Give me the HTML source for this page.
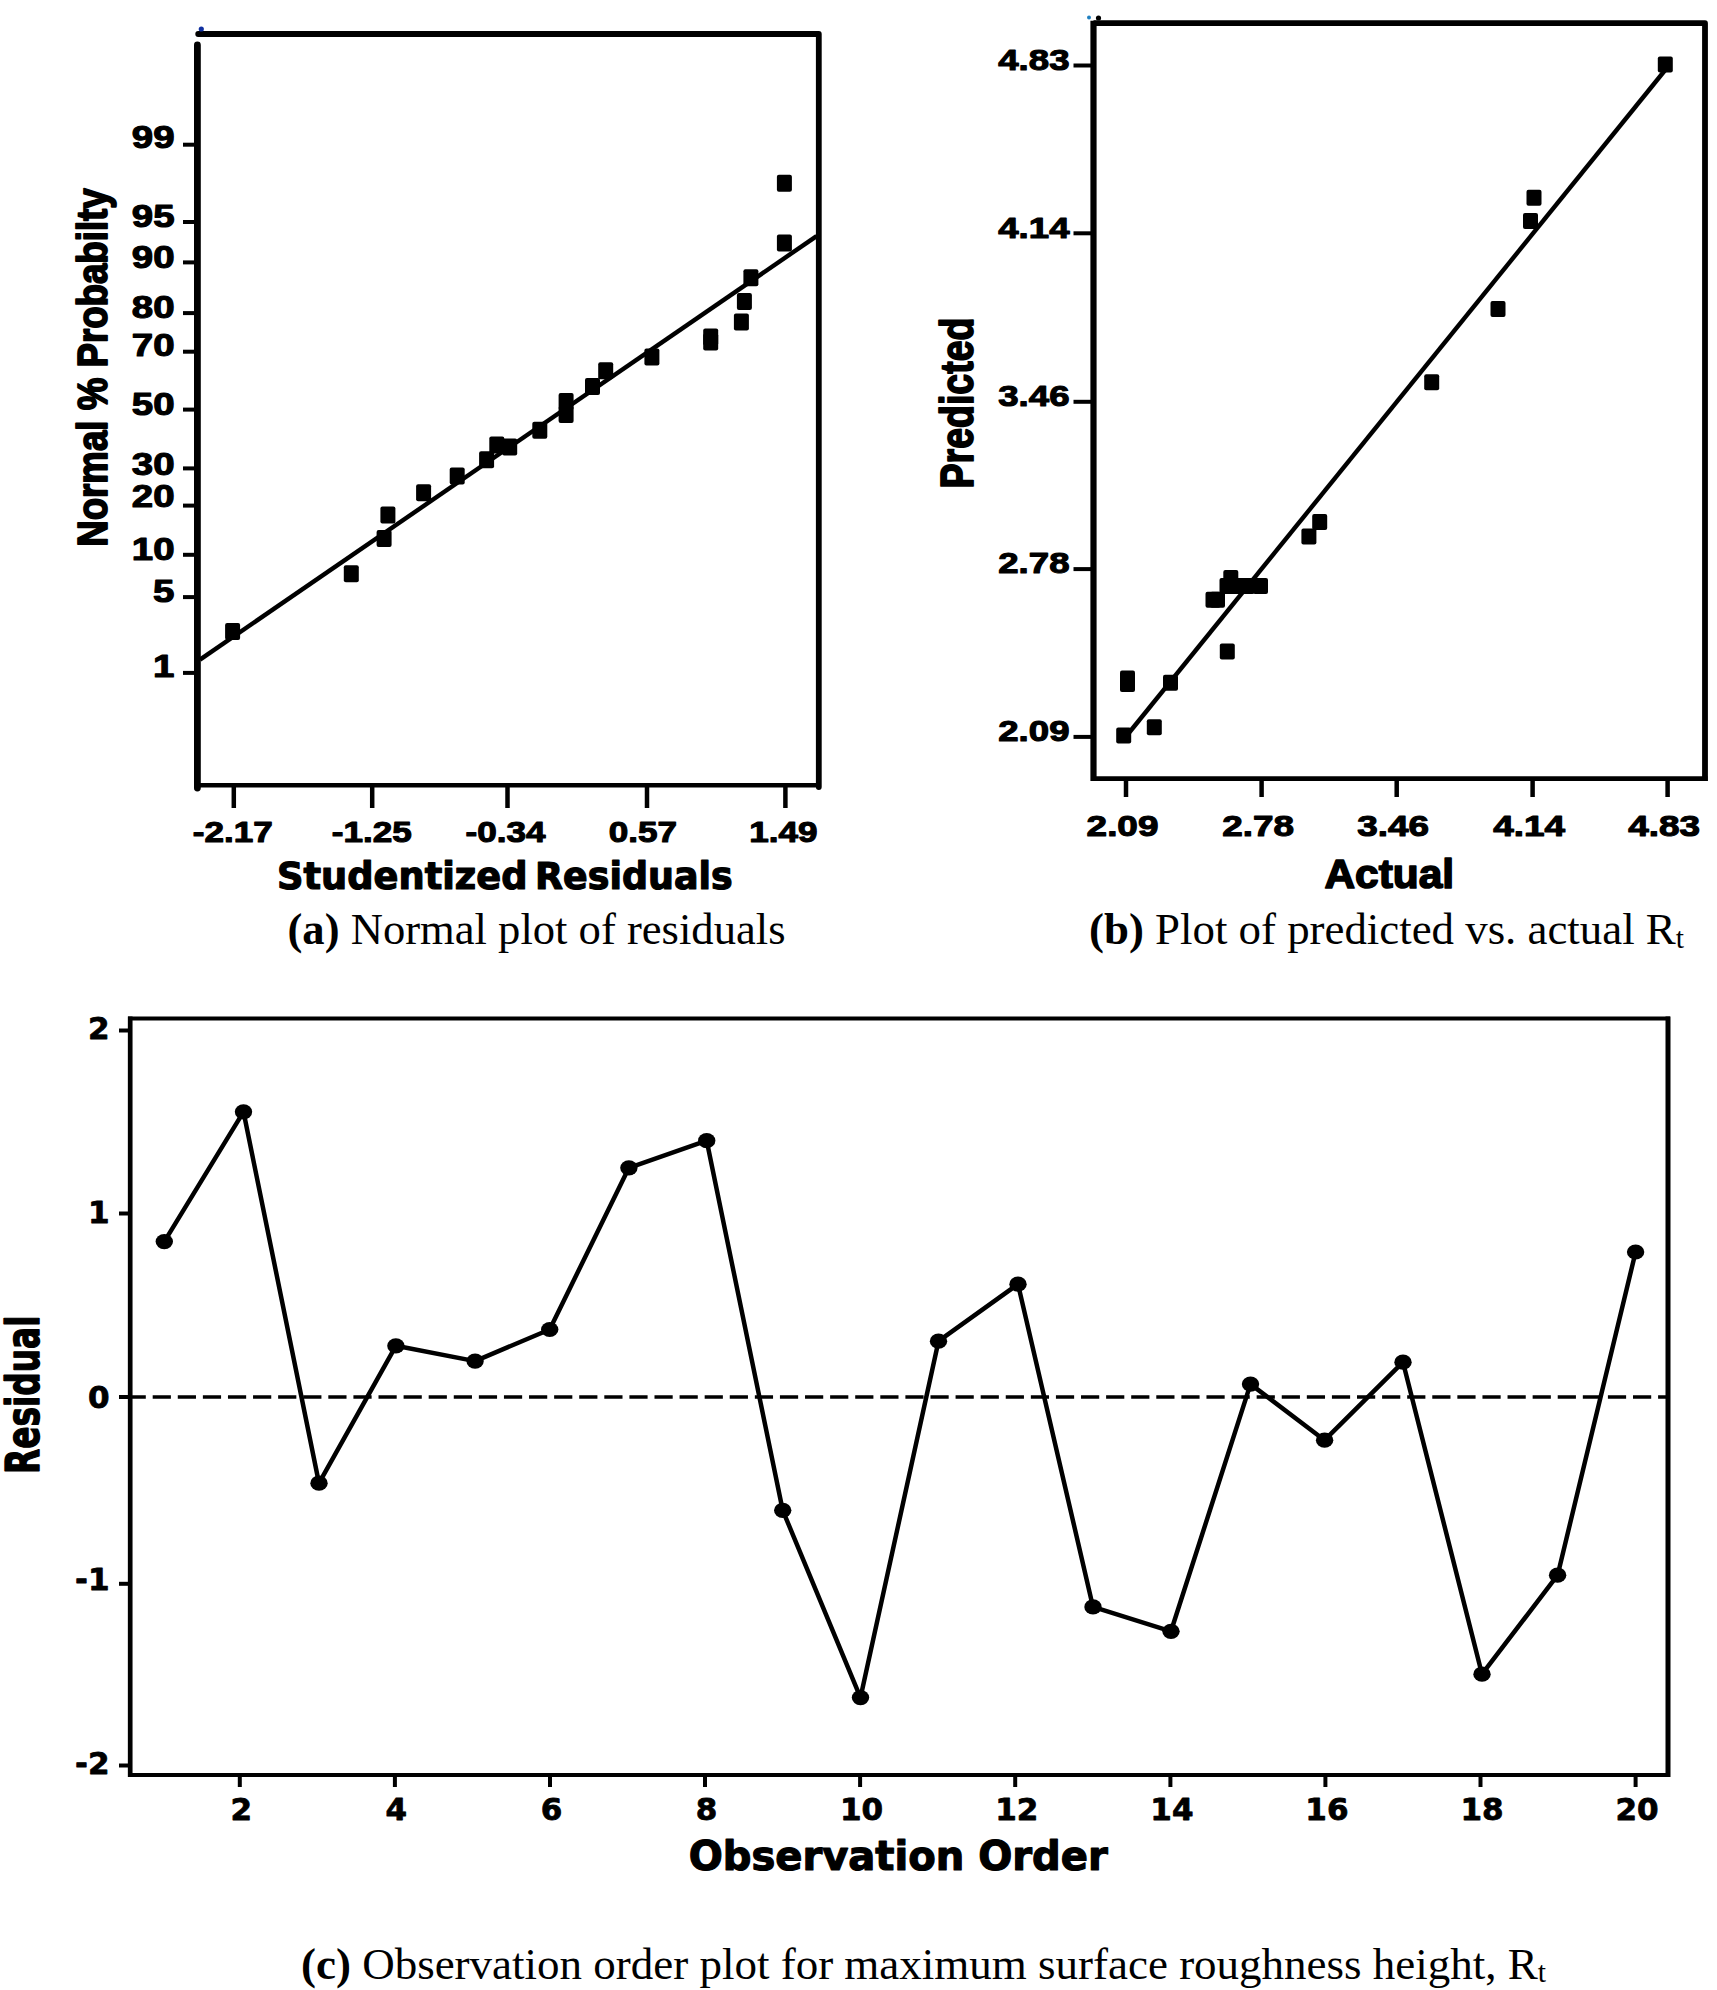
<!DOCTYPE html>
<html><head><meta charset="utf-8"><title>Residual plots</title>
<style>
html,body{margin:0;padding:0;background:#fff;}
body{width:1717px;height:1990px;overflow:hidden;}
svg{display:block;}
</style></head>
<body>
<svg width="1717" height="1990" viewBox="0 0 1717 1990">
<rect width="1717" height="1990" fill="#fff"/>
<path d="M198.2,34 H818.8 V787" fill="none" stroke="#000" stroke-width="5.8" stroke-linejoin="round" stroke-linecap="round"/>
<line x1="197.4" y1="45" x2="197.4" y2="788" stroke="#000" stroke-width="6.8" stroke-linecap="round" />
<line x1="195" y1="785.3" x2="821" y2="785.3" stroke="#000" stroke-width="4.6" stroke-linecap="butt" />
<circle cx="201.3" cy="29" r="2.6" fill="#1030a0"/>
<circle cx="1089" cy="17.5" r="2" fill="#2080c0"/>
<circle cx="1098.5" cy="18" r="2.6" fill="#000"/>
<line x1="183" y1="144.7" x2="197" y2="144.7" stroke="#000" stroke-width="4" stroke-linecap="butt" />
<text transform="translate(174.5,148.2) scale(1.24,1)" x="0" y="0" style="font-family:'Liberation Sans',Arial,sans-serif;font-weight:bold;stroke:#000;stroke-width:1.1px;stroke-linejoin:round;font-size:31px" text-anchor="end">99</text>
<line x1="183" y1="222" x2="197" y2="222" stroke="#000" stroke-width="4" stroke-linecap="butt" />
<text transform="translate(174.5,227) scale(1.24,1)" x="0" y="0" style="font-family:'Liberation Sans',Arial,sans-serif;font-weight:bold;stroke:#000;stroke-width:1.1px;stroke-linejoin:round;font-size:31px" text-anchor="end">95</text>
<line x1="183" y1="262.4" x2="197" y2="262.4" stroke="#000" stroke-width="4" stroke-linecap="butt" />
<text transform="translate(174.5,267.5) scale(1.24,1)" x="0" y="0" style="font-family:'Liberation Sans',Arial,sans-serif;font-weight:bold;stroke:#000;stroke-width:1.1px;stroke-linejoin:round;font-size:31px" text-anchor="end">90</text>
<line x1="183" y1="313.1" x2="197" y2="313.1" stroke="#000" stroke-width="4" stroke-linecap="butt" />
<text transform="translate(174.5,317.6) scale(1.24,1)" x="0" y="0" style="font-family:'Liberation Sans',Arial,sans-serif;font-weight:bold;stroke:#000;stroke-width:1.1px;stroke-linejoin:round;font-size:31px" text-anchor="end">80</text>
<line x1="183" y1="351.7" x2="197" y2="351.7" stroke="#000" stroke-width="4" stroke-linecap="butt" />
<text transform="translate(174.5,356.2) scale(1.24,1)" x="0" y="0" style="font-family:'Liberation Sans',Arial,sans-serif;font-weight:bold;stroke:#000;stroke-width:1.1px;stroke-linejoin:round;font-size:31px" text-anchor="end">70</text>
<line x1="183" y1="409.6" x2="197" y2="409.6" stroke="#000" stroke-width="4" stroke-linecap="butt" />
<text transform="translate(174.5,415) scale(1.24,1)" x="0" y="0" style="font-family:'Liberation Sans',Arial,sans-serif;font-weight:bold;stroke:#000;stroke-width:1.1px;stroke-linejoin:round;font-size:31px" text-anchor="end">50</text>
<line x1="183" y1="468.4" x2="197" y2="468.4" stroke="#000" stroke-width="4" stroke-linecap="butt" />
<text transform="translate(174.5,474.7) scale(1.24,1)" x="0" y="0" style="font-family:'Liberation Sans',Arial,sans-serif;font-weight:bold;stroke:#000;stroke-width:1.1px;stroke-linejoin:round;font-size:31px" text-anchor="end">30</text>
<line x1="183" y1="505.6" x2="197" y2="505.6" stroke="#000" stroke-width="4" stroke-linecap="butt" />
<text transform="translate(174.5,507.2) scale(1.24,1)" x="0" y="0" style="font-family:'Liberation Sans',Arial,sans-serif;font-weight:bold;stroke:#000;stroke-width:1.1px;stroke-linejoin:round;font-size:31px" text-anchor="end">20</text>
<line x1="183" y1="554.8" x2="197" y2="554.8" stroke="#000" stroke-width="4" stroke-linecap="butt" />
<text transform="translate(174.5,559.6) scale(1.24,1)" x="0" y="0" style="font-family:'Liberation Sans',Arial,sans-serif;font-weight:bold;stroke:#000;stroke-width:1.1px;stroke-linejoin:round;font-size:31px" text-anchor="end">10</text>
<line x1="183" y1="597.1" x2="197" y2="597.1" stroke="#000" stroke-width="4" stroke-linecap="butt" />
<text transform="translate(174.5,602.3) scale(1.24,1)" x="0" y="0" style="font-family:'Liberation Sans',Arial,sans-serif;font-weight:bold;stroke:#000;stroke-width:1.1px;stroke-linejoin:round;font-size:31px" text-anchor="end">5</text>
<line x1="183" y1="672.9" x2="197" y2="672.9" stroke="#000" stroke-width="4" stroke-linecap="butt" />
<text transform="translate(174.5,677.3) scale(1.24,1)" x="0" y="0" style="font-family:'Liberation Sans',Arial,sans-serif;font-weight:bold;stroke:#000;stroke-width:1.1px;stroke-linejoin:round;font-size:31px" text-anchor="end">1</text>
<line x1="233.8" y1="784" x2="233.8" y2="808" stroke="#000" stroke-width="4.5" stroke-linecap="butt" />
<text transform="translate(232.8,842.3) scale(1.17,1)" x="0" y="0" style="font-family:'Liberation Sans',Arial,sans-serif;font-weight:bold;stroke:#000;stroke-width:1.1px;stroke-linejoin:round;font-size:30px" text-anchor="middle">-2.17</text>
<line x1="372.2" y1="784" x2="372.2" y2="808" stroke="#000" stroke-width="4.5" stroke-linecap="butt" />
<text transform="translate(371.7,842.3) scale(1.17,1)" x="0" y="0" style="font-family:'Liberation Sans',Arial,sans-serif;font-weight:bold;stroke:#000;stroke-width:1.1px;stroke-linejoin:round;font-size:30px" text-anchor="middle">-1.25</text>
<line x1="507.5" y1="784" x2="507.5" y2="808" stroke="#000" stroke-width="4.5" stroke-linecap="butt" />
<text transform="translate(505.5,842.3) scale(1.17,1)" x="0" y="0" style="font-family:'Liberation Sans',Arial,sans-serif;font-weight:bold;stroke:#000;stroke-width:1.1px;stroke-linejoin:round;font-size:30px" text-anchor="middle">-0.34</text>
<line x1="647" y1="784" x2="647" y2="808" stroke="#000" stroke-width="4.5" stroke-linecap="butt" />
<text transform="translate(643,842.3) scale(1.17,1)" x="0" y="0" style="font-family:'Liberation Sans',Arial,sans-serif;font-weight:bold;stroke:#000;stroke-width:1.1px;stroke-linejoin:round;font-size:30px" text-anchor="middle">0.57</text>
<line x1="785.4" y1="784" x2="785.4" y2="808" stroke="#000" stroke-width="4.5" stroke-linecap="butt" />
<text transform="translate(783.4,842.3) scale(1.17,1)" x="0" y="0" style="font-family:'Liberation Sans',Arial,sans-serif;font-weight:bold;stroke:#000;stroke-width:1.1px;stroke-linejoin:round;font-size:30px" text-anchor="middle">1.49</text>
<text x="277" y="889" style="font-family:'DejaVu Sans',Verdana,sans-serif;font-weight:bold;stroke:#000;stroke-width:1.2px;stroke-linejoin:round;font-size:36.5px" text-anchor="start" textLength="250.5" lengthAdjust="spacingAndGlyphs">Studentized</text>
<text x="535.1" y="889" style="font-family:'DejaVu Sans',Verdana,sans-serif;font-weight:bold;stroke:#000;stroke-width:1.2px;stroke-linejoin:round;font-size:36.5px" text-anchor="start" textLength="197.5" lengthAdjust="spacingAndGlyphs">Residuals</text>
<text transform="translate(106.7,546.8) rotate(-90)" x="0" y="0" style="font-family:'Liberation Sans',Arial,sans-serif;font-weight:bold;stroke:#000;stroke-width:1.8px;stroke-linejoin:round;font-size:43px" text-anchor="start" textLength="358.5" lengthAdjust="spacingAndGlyphs">Normal % Probabilty</text>
<line x1="200" y1="659.6" x2="816.6" y2="236.1" stroke="#000" stroke-width="4.4" stroke-linecap="butt" />
<rect x="225.1" y="623.1" width="15" height="17" rx="2" fill="#000"/>
<rect x="343.8" y="565.3" width="15" height="17" rx="2" fill="#000"/>
<rect x="376.6" y="529.9" width="15" height="17" rx="2" fill="#000"/>
<rect x="380.4" y="506.6" width="15" height="17" rx="2" fill="#000"/>
<rect x="416.1" y="484.3" width="15" height="17" rx="2" fill="#000"/>
<rect x="449.7" y="467.5" width="15" height="17" rx="2" fill="#000"/>
<rect x="479.1" y="451.3" width="15" height="17" rx="2" fill="#000"/>
<rect x="489.3" y="436.5" width="15" height="17" rx="2" fill="#000"/>
<rect x="502.2" y="438.5" width="15" height="17" rx="2" fill="#000"/>
<rect x="532.3" y="421.7" width="15" height="17" rx="2" fill="#000"/>
<rect x="558.6" y="393.0" width="15" height="17" rx="2" fill="#000"/>
<rect x="558.6" y="405.9" width="15" height="17" rx="2" fill="#000"/>
<rect x="585.0" y="378.1" width="15" height="17" rx="2" fill="#000"/>
<rect x="598.2" y="362.3" width="15" height="17" rx="2" fill="#000"/>
<rect x="644.4" y="348.4" width="15" height="17" rx="2" fill="#000"/>
<rect x="703.2" y="328.5" width="15" height="17" rx="2" fill="#000"/>
<rect x="703.2" y="333.5" width="15" height="17" rx="2" fill="#000"/>
<rect x="733.9" y="313.4" width="15" height="17" rx="2" fill="#000"/>
<rect x="736.9" y="293.0" width="15" height="17" rx="2" fill="#000"/>
<rect x="743.4" y="269.2" width="15" height="17" rx="2" fill="#000"/>
<rect x="776.9" y="234.6" width="15" height="17" rx="2" fill="#000"/>
<rect x="776.9" y="174.8" width="15" height="17" rx="2" fill="#000"/>
<path d="M1093.5,23.2 H1705 V781" fill="none" stroke="#000" stroke-width="5.8" stroke-linejoin="round"/>
<line x1="1093.5" y1="20.7" x2="1093.5" y2="781" stroke="#000" stroke-width="6.2" stroke-linecap="butt" />
<line x1="1091" y1="778.6" x2="1707.5" y2="778.6" stroke="#000" stroke-width="4.6" stroke-linecap="butt" />
<line x1="1073.5" y1="65.5" x2="1092" y2="65.5" stroke="#000" stroke-width="4" stroke-linecap="butt" />
<text transform="translate(1069.5,69.7) scale(1.22,1)" x="0" y="0" style="font-family:'Liberation Sans',Arial,sans-serif;font-weight:bold;stroke:#000;stroke-width:1.1px;stroke-linejoin:round;font-size:30px" text-anchor="end">4.83</text>
<line x1="1073.5" y1="233.3" x2="1092" y2="233.3" stroke="#000" stroke-width="4" stroke-linecap="butt" />
<text transform="translate(1069.5,237.5) scale(1.22,1)" x="0" y="0" style="font-family:'Liberation Sans',Arial,sans-serif;font-weight:bold;stroke:#000;stroke-width:1.1px;stroke-linejoin:round;font-size:30px" text-anchor="end">4.14</text>
<line x1="1073.5" y1="401.8" x2="1092" y2="401.8" stroke="#000" stroke-width="4" stroke-linecap="butt" />
<text transform="translate(1069.5,406.0) scale(1.22,1)" x="0" y="0" style="font-family:'Liberation Sans',Arial,sans-serif;font-weight:bold;stroke:#000;stroke-width:1.1px;stroke-linejoin:round;font-size:30px" text-anchor="end">3.46</text>
<line x1="1073.5" y1="569.1" x2="1092" y2="569.1" stroke="#000" stroke-width="4" stroke-linecap="butt" />
<text transform="translate(1069.5,573.3000000000001) scale(1.22,1)" x="0" y="0" style="font-family:'Liberation Sans',Arial,sans-serif;font-weight:bold;stroke:#000;stroke-width:1.1px;stroke-linejoin:round;font-size:30px" text-anchor="end">2.78</text>
<line x1="1073.5" y1="736.9" x2="1092" y2="736.9" stroke="#000" stroke-width="4" stroke-linecap="butt" />
<text transform="translate(1069.5,741.1) scale(1.22,1)" x="0" y="0" style="font-family:'Liberation Sans',Arial,sans-serif;font-weight:bold;stroke:#000;stroke-width:1.1px;stroke-linejoin:round;font-size:30px" text-anchor="end">2.09</text>
<line x1="1126" y1="778" x2="1126" y2="797" stroke="#000" stroke-width="4.5" stroke-linecap="butt" />
<text transform="translate(1122.5,836) scale(1.23,1)" x="0" y="0" style="font-family:'Liberation Sans',Arial,sans-serif;font-weight:bold;stroke:#000;stroke-width:1.1px;stroke-linejoin:round;font-size:30px" text-anchor="middle">2.09</text>
<line x1="1261.6" y1="778" x2="1261.6" y2="797" stroke="#000" stroke-width="4.5" stroke-linecap="butt" />
<text transform="translate(1258.1,836) scale(1.23,1)" x="0" y="0" style="font-family:'Liberation Sans',Arial,sans-serif;font-weight:bold;stroke:#000;stroke-width:1.1px;stroke-linejoin:round;font-size:30px" text-anchor="middle">2.78</text>
<line x1="1396.7" y1="778" x2="1396.7" y2="797" stroke="#000" stroke-width="4.5" stroke-linecap="butt" />
<text transform="translate(1393.2,836) scale(1.23,1)" x="0" y="0" style="font-family:'Liberation Sans',Arial,sans-serif;font-weight:bold;stroke:#000;stroke-width:1.1px;stroke-linejoin:round;font-size:30px" text-anchor="middle">3.46</text>
<line x1="1532.6" y1="778" x2="1532.6" y2="797" stroke="#000" stroke-width="4.5" stroke-linecap="butt" />
<text transform="translate(1529.1,836) scale(1.23,1)" x="0" y="0" style="font-family:'Liberation Sans',Arial,sans-serif;font-weight:bold;stroke:#000;stroke-width:1.1px;stroke-linejoin:round;font-size:30px" text-anchor="middle">4.14</text>
<line x1="1667.6" y1="778" x2="1667.6" y2="797" stroke="#000" stroke-width="4.5" stroke-linecap="butt" />
<text transform="translate(1664.1,836) scale(1.23,1)" x="0" y="0" style="font-family:'Liberation Sans',Arial,sans-serif;font-weight:bold;stroke:#000;stroke-width:1.1px;stroke-linejoin:round;font-size:30px" text-anchor="middle">4.83</text>
<text x="1324.5" y="887.5" style="font-family:'Liberation Sans',Arial,sans-serif;font-weight:bold;stroke:#000;stroke-width:1.6px;stroke-linejoin:round;font-size:40px" text-anchor="start" textLength="129.5" lengthAdjust="spacingAndGlyphs">Actual</text>
<text transform="translate(973,488.5) rotate(-90)" x="0" y="0" style="font-family:'Liberation Sans',Arial,sans-serif;font-weight:bold;stroke:#000;stroke-width:1.8px;stroke-linejoin:round;font-size:47px" text-anchor="start" textLength="171" lengthAdjust="spacingAndGlyphs">Predicted</text>
<line x1="1124" y1="739" x2="1666" y2="69" stroke="#000" stroke-width="4.4" stroke-linecap="butt" />
<rect x="1116.2" y="727.5" width="15" height="16" rx="2" fill="#000"/>
<rect x="1120.0" y="670.5" width="15" height="16" rx="2" fill="#000"/>
<rect x="1120.0" y="676.0" width="15" height="16" rx="2" fill="#000"/>
<rect x="1146.8" y="719.2" width="15" height="16" rx="2" fill="#000"/>
<rect x="1163.0" y="674.7" width="15" height="16" rx="2" fill="#000"/>
<rect x="1205.5" y="591.7" width="15" height="16" rx="2" fill="#000"/>
<rect x="1210.0" y="591.7" width="15" height="16" rx="2" fill="#000"/>
<rect x="1223.3" y="569.9" width="15" height="16" rx="2" fill="#000"/>
<rect x="1219.5" y="578.0" width="15" height="16" rx="2" fill="#000"/>
<rect x="1229.5" y="578.0" width="15" height="16" rx="2" fill="#000"/>
<rect x="1239.5" y="578.0" width="15" height="16" rx="2" fill="#000"/>
<rect x="1253.0" y="578.0" width="15" height="16" rx="2" fill="#000"/>
<rect x="1219.8" y="643.6" width="15" height="16" rx="2" fill="#000"/>
<rect x="1301.4" y="528.5" width="15" height="16" rx="2" fill="#000"/>
<rect x="1312.2" y="514.0" width="15" height="16" rx="2" fill="#000"/>
<rect x="1424.2" y="374.3" width="15" height="16" rx="2" fill="#000"/>
<rect x="1490.5" y="300.9" width="15" height="16" rx="2" fill="#000"/>
<rect x="1523.0" y="213.0" width="15" height="16" rx="2" fill="#000"/>
<rect x="1526.5" y="189.8" width="15" height="16" rx="2" fill="#000"/>
<rect x="1657.8" y="56.4" width="15" height="16" rx="2" fill="#000"/>
<line x1="128" y1="1018.5" x2="1670" y2="1018.5" stroke="#000" stroke-width="4" stroke-linecap="butt" />
<line x1="130.2" y1="1016.5" x2="130.2" y2="1777" stroke="#000" stroke-width="4.7" stroke-linecap="butt" />
<line x1="1668" y1="1016.5" x2="1668" y2="1777" stroke="#000" stroke-width="5" stroke-linecap="butt" />
<line x1="128" y1="1775" x2="1670" y2="1775" stroke="#000" stroke-width="4" stroke-linecap="butt" />
<line x1="119" y1="1030.5" x2="130" y2="1030.5" stroke="#000" stroke-width="4" stroke-linecap="butt" />
<text x="109.5" y="1038.5" style="font-family:'DejaVu Sans',Verdana,sans-serif;font-weight:bold;stroke:#000;stroke-width:0.8px;stroke-linejoin:round;font-size:31px" text-anchor="end">2</text>
<line x1="119" y1="1213.5" x2="130" y2="1213.5" stroke="#000" stroke-width="4" stroke-linecap="butt" />
<text x="109.5" y="1222.5" style="font-family:'DejaVu Sans',Verdana,sans-serif;font-weight:bold;stroke:#000;stroke-width:0.8px;stroke-linejoin:round;font-size:31px" text-anchor="end">1</text>
<line x1="119" y1="1397" x2="130" y2="1397" stroke="#000" stroke-width="4" stroke-linecap="butt" />
<text x="109.5" y="1408" style="font-family:'DejaVu Sans',Verdana,sans-serif;font-weight:bold;stroke:#000;stroke-width:0.8px;stroke-linejoin:round;font-size:31px" text-anchor="end">0</text>
<line x1="119" y1="1583.8" x2="130" y2="1583.8" stroke="#000" stroke-width="4" stroke-linecap="butt" />
<text x="109.5" y="1590" style="font-family:'DejaVu Sans',Verdana,sans-serif;font-weight:bold;stroke:#000;stroke-width:0.8px;stroke-linejoin:round;font-size:31px" text-anchor="end">-1</text>
<line x1="119" y1="1765.5" x2="130" y2="1765.5" stroke="#000" stroke-width="4" stroke-linecap="butt" />
<text x="109.5" y="1773.5" style="font-family:'DejaVu Sans',Verdana,sans-serif;font-weight:bold;stroke:#000;stroke-width:0.8px;stroke-linejoin:round;font-size:31px" text-anchor="end">-2</text>
<line x1="239.8" y1="1775" x2="239.8" y2="1787" stroke="#000" stroke-width="4" stroke-linecap="butt" />
<text x="241.3" y="1820" style="font-family:'DejaVu Sans',Verdana,sans-serif;font-weight:bold;stroke:#000;stroke-width:0.8px;stroke-linejoin:round;font-size:31px" text-anchor="middle">2</text>
<line x1="394.9" y1="1775" x2="394.9" y2="1787" stroke="#000" stroke-width="4" stroke-linecap="butt" />
<text x="396.4" y="1820" style="font-family:'DejaVu Sans',Verdana,sans-serif;font-weight:bold;stroke:#000;stroke-width:0.8px;stroke-linejoin:round;font-size:31px" text-anchor="middle">4</text>
<line x1="550" y1="1775" x2="550" y2="1787" stroke="#000" stroke-width="4" stroke-linecap="butt" />
<text x="551.5" y="1820" style="font-family:'DejaVu Sans',Verdana,sans-serif;font-weight:bold;stroke:#000;stroke-width:0.8px;stroke-linejoin:round;font-size:31px" text-anchor="middle">6</text>
<line x1="705" y1="1775" x2="705" y2="1787" stroke="#000" stroke-width="4" stroke-linecap="butt" />
<text x="706.5" y="1820" style="font-family:'DejaVu Sans',Verdana,sans-serif;font-weight:bold;stroke:#000;stroke-width:0.8px;stroke-linejoin:round;font-size:31px" text-anchor="middle">8</text>
<line x1="860.1" y1="1775" x2="860.1" y2="1787" stroke="#000" stroke-width="4" stroke-linecap="butt" />
<text x="861.6" y="1820" style="font-family:'DejaVu Sans',Verdana,sans-serif;font-weight:bold;stroke:#000;stroke-width:0.8px;stroke-linejoin:round;font-size:31px" text-anchor="middle">10</text>
<line x1="1015.2" y1="1775" x2="1015.2" y2="1787" stroke="#000" stroke-width="4" stroke-linecap="butt" />
<text x="1016.7" y="1820" style="font-family:'DejaVu Sans',Verdana,sans-serif;font-weight:bold;stroke:#000;stroke-width:0.8px;stroke-linejoin:round;font-size:31px" text-anchor="middle">12</text>
<line x1="1170.4" y1="1775" x2="1170.4" y2="1787" stroke="#000" stroke-width="4" stroke-linecap="butt" />
<text x="1171.9" y="1820" style="font-family:'DejaVu Sans',Verdana,sans-serif;font-weight:bold;stroke:#000;stroke-width:0.8px;stroke-linejoin:round;font-size:31px" text-anchor="middle">14</text>
<line x1="1325.4" y1="1775" x2="1325.4" y2="1787" stroke="#000" stroke-width="4" stroke-linecap="butt" />
<text x="1326.9" y="1820" style="font-family:'DejaVu Sans',Verdana,sans-serif;font-weight:bold;stroke:#000;stroke-width:0.8px;stroke-linejoin:round;font-size:31px" text-anchor="middle">16</text>
<line x1="1480.5" y1="1775" x2="1480.5" y2="1787" stroke="#000" stroke-width="4" stroke-linecap="butt" />
<text x="1482.0" y="1820" style="font-family:'DejaVu Sans',Verdana,sans-serif;font-weight:bold;stroke:#000;stroke-width:0.8px;stroke-linejoin:round;font-size:31px" text-anchor="middle">18</text>
<line x1="1635.6" y1="1775" x2="1635.6" y2="1787" stroke="#000" stroke-width="4" stroke-linecap="butt" />
<text x="1637.1" y="1820" style="font-family:'DejaVu Sans',Verdana,sans-serif;font-weight:bold;stroke:#000;stroke-width:0.8px;stroke-linejoin:round;font-size:31px" text-anchor="middle">20</text>
<text x="688.7" y="1870" style="font-family:'DejaVu Sans',Verdana,sans-serif;font-weight:bold;stroke:#000;stroke-width:1.2px;stroke-linejoin:round;font-size:40px" text-anchor="start" textLength="419" lengthAdjust="spacingAndGlyphs">Observation Order</text>
<text transform="translate(38.7,1474) rotate(-90)" x="0" y="0" style="font-family:'DejaVu Sans',Verdana,sans-serif;font-weight:bold;stroke:#000;stroke-width:1.4px;stroke-linejoin:round;font-size:47px" text-anchor="start" textLength="158.5" lengthAdjust="spacingAndGlyphs">Residual</text>
<line x1="127.6" y1="1397" x2="1666" y2="1397" stroke="#000" stroke-width="3.5" stroke-dasharray="18.2 6.89"/>
<polyline points="164.3,1241.6 243.5,1111.8 319,1483.2 395.9,1345.8 475.1,1361.1 549.7,1329.5 628.9,1167.8 706.7,1140.7 782.7,1510.3 860.5,1697.6 938.5,1341.2 1018,1284.2 1093,1606.9 1171,1631.3 1250.5,1384.1 1324.6,1440.2 1403,1362.2 1482,1674.2 1557.6,1575.2 1635.6,1252" fill="none" stroke="#000" stroke-width="4.5" stroke-linejoin="round"/>
<ellipse cx="164.3" cy="1241.6" rx="8.7" ry="7.6" fill="#000"/>
<ellipse cx="243.5" cy="1111.8" rx="8.7" ry="7.6" fill="#000"/>
<ellipse cx="319" cy="1483.2" rx="8.7" ry="7.6" fill="#000"/>
<ellipse cx="395.9" cy="1345.8" rx="8.7" ry="7.6" fill="#000"/>
<ellipse cx="475.1" cy="1361.1" rx="8.7" ry="7.6" fill="#000"/>
<ellipse cx="549.7" cy="1329.5" rx="8.7" ry="7.6" fill="#000"/>
<ellipse cx="628.9" cy="1167.8" rx="8.7" ry="7.6" fill="#000"/>
<ellipse cx="706.7" cy="1140.7" rx="8.7" ry="7.6" fill="#000"/>
<ellipse cx="782.7" cy="1510.3" rx="8.7" ry="7.6" fill="#000"/>
<ellipse cx="860.5" cy="1697.6" rx="8.7" ry="7.6" fill="#000"/>
<ellipse cx="938.5" cy="1341.2" rx="8.7" ry="7.6" fill="#000"/>
<ellipse cx="1018" cy="1284.2" rx="8.7" ry="7.6" fill="#000"/>
<ellipse cx="1093" cy="1606.9" rx="8.7" ry="7.6" fill="#000"/>
<ellipse cx="1171" cy="1631.3" rx="8.7" ry="7.6" fill="#000"/>
<ellipse cx="1250.5" cy="1384.1" rx="8.7" ry="7.6" fill="#000"/>
<ellipse cx="1324.6" cy="1440.2" rx="8.7" ry="7.6" fill="#000"/>
<ellipse cx="1403" cy="1362.2" rx="8.7" ry="7.6" fill="#000"/>
<ellipse cx="1482" cy="1674.2" rx="8.7" ry="7.6" fill="#000"/>
<ellipse cx="1557.6" cy="1575.2" rx="8.7" ry="7.6" fill="#000"/>
<ellipse cx="1635.6" cy="1252" rx="8.7" ry="7.6" fill="#000"/>
<text x="287.5" y="944" style="font-family:'Liberation Serif','Times New Roman',serif;font-size:44px" textLength="498" lengthAdjust="spacingAndGlyphs"><tspan font-weight="bold">(a)</tspan> Normal plot of residuals</text>
<text x="1089" y="944" style="font-family:'Liberation Serif','Times New Roman',serif;font-size:44px" textLength="595" lengthAdjust="spacingAndGlyphs"><tspan font-weight="bold">(b)</tspan> Plot of predicted vs. actual R<tspan font-size="29" dy="3.5">t</tspan></text>
<text x="301" y="1978.5" style="font-family:'Liberation Serif','Times New Roman',serif;font-size:44px" textLength="1245" lengthAdjust="spacingAndGlyphs"><tspan font-weight="bold">(c)</tspan> Observation order plot for maximum surface roughness height, R<tspan font-size="29" dy="3.5">t</tspan></text>
</svg>
</body></html>
